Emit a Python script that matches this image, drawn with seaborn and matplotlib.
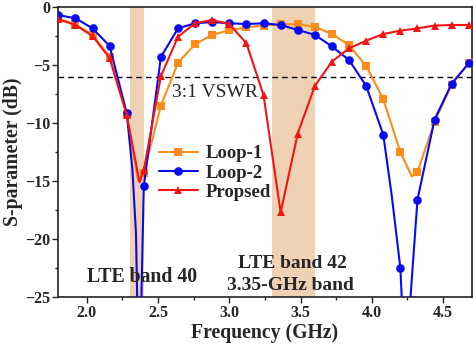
import matplotlib
matplotlib.use("Agg")
import matplotlib.pyplot as plt
import numpy as np
import pandas as pd
import seaborn as sns
from matplotlib.ticker import MultipleLocator

# marker grid (GHz) and values read at the markers
freq_mk = [1.80, 1.92, 2.04, 2.16, 2.28, 2.40, 2.52, 2.64, 2.76, 2.88, 3.00, 3.12, 3.24,
           3.36, 3.48, 3.60, 3.72, 3.84, 3.96, 4.08, 4.20, 4.32, 4.44, 4.56, 4.68]
loop1_mk = [-1.0, -1.5, -2.4, -4.3, -9.2, -14.3, -8.5, -4.8, -3.2, -2.4, -2.0, -1.75, -1.6,
            -1.5, -1.47, -1.7, -2.33, -3.28, -5.09, -7.93, -12.5, -14.2, -9.9, -6.7, -4.8]
loop2_mk = [-0.7, -0.97, -1.84, -3.36, -9.14, -15.4, -4.3, -1.84, -1.4, -1.3, -1.4, -1.47, -1.4,
            -1.55, -1.98, -2.4, -3.4, -4.57, -6.8, -11.0, -22.5, -16.6, -9.7, -6.6, -4.85]
prop_mk = [-1.06, -1.55, -2.5, -4.4, -9.3, -14.05, -5.95, -2.56, -1.4, -1.12, -1.47, -3.13, -7.6,
           -17.7, -10.9, -6.8, -4.7, -3.56, -2.9, -2.33, -2.04, -1.84, -1.6, -1.55, -1.55]

# extra points read along the curves between markers (resonance dips)
loop1_extra_f = [2.36, 4.28]
loop1_extra_v = [-15.0, -14.6]
loop2_extra_f = [2.32, 2.345, 2.367, 4.14, 4.24, 4.27]
loop2_extra_v = [-14.0, -19.5, -34.0, -16.3, -33.0, -25.2]
prop_extra_f = [2.37]
prop_extra_v = [-15.1]

bands = [(2.3, 2.4), (3.3, 3.6)]


def build(name, mk, ef, ev):
    d = pd.DataFrame({"f": freq_mk + ef, "s": mk + ev,
                      "mk": [True] * len(freq_mk) + [False] * len(ef)})
    d = d.sort_values("f").reset_index(drop=True)
    d["name"] = name
    return d


series = [
    ("Loop-1", build("Loop-1", loop1_mk, loop1_extra_f, loop1_extra_v), "#FF8C1A", "s", 5.2),
    ("Loop-2", build("Loop-2", loop2_mk, loop2_extra_f, loop2_extra_v), "#0A0AF0", "o", 6.2),
    ("Propsed", build("Propsed", prop_mk, prop_extra_f, prop_extra_v), "#F41414", "^", 6.2),
]

sns.set_theme(style="ticks")
plt.rcParams["font.family"] = ["Liberation Serif", "DejaVu Serif"]
plt.rcParams["font.weight"] = "bold"
plt.rcParams["axes.labelweight"] = "bold"

fig = plt.figure(figsize=(4.74, 3.5), dpi=100)
ax = fig.add_axes([0.123, 0.151, 0.872, 0.829])

for a, b in bands:
    ax.axvspan(a, b, color="#EFD2B4", lw=0, zorder=0)
ax.axhline(-6, color="black", ls=(0, (4, 3)), lw=1.0, zorder=1)

for name, d, col, mk, ms in series:
    sns.lineplot(data=d, x="f", y="s", ax=ax, color=col, lw=1.5, marker=mk,
                 markersize=ms, markeredgewidth=0, markevery=list(np.where(d["mk"])[0]),
                 estimator=None, sort=False, label=name, zorder=3)

ax.set_xlim(1.8, 4.7)
ax.set_ylim(-25, 0)
ax.xaxis.set_major_locator(MultipleLocator(0.5))
ax.xaxis.set_minor_locator(MultipleLocator(0.25))
ax.yaxis.set_major_locator(MultipleLocator(5))
ax.yaxis.set_minor_locator(MultipleLocator(2.5))
ax.tick_params(which="major", length=4, width=1, labelsize=11.5, pad=2)
ax.tick_params(which="minor", length=2.5, width=1)
for lab in ax.get_xticklabels() + ax.get_yticklabels():
    lab.set_fontweight("bold")
for sp in ax.spines.values():
    sp.set_linewidth(1.2)
    sp.set_color("#222222")

ax.set_xlabel("Frequency (GHz)", fontsize=14.2, fontweight="bold", labelpad=1)
ax.set_ylabel("S-parameter (dB)", fontsize=14.2, fontweight="bold", labelpad=1)

ax.text(2.90, -7.4, "3:1 VSWR", fontsize=14, fontweight="normal", ha="center", va="center")
ax.text(2.39, -23.3, "LTE band 40", fontsize=14.2, fontweight="bold", ha="center", va="center")
ax.text(3.44, -22.1, "LTE band 42", fontsize=14, fontweight="bold", ha="center", va="center")
ax.text(3.43, -24.0, "3.35-GHz band", fontsize=14, fontweight="bold", ha="center", va="center")

ax.legend(loc="upper left", bbox_to_anchor=(0.225, 0.55), frameon=False, fontsize=13.5,
          handlelength=2.1, handletextpad=0.4, labelspacing=0.12, borderaxespad=0)

fig.savefig("out.png", dpi=100)
